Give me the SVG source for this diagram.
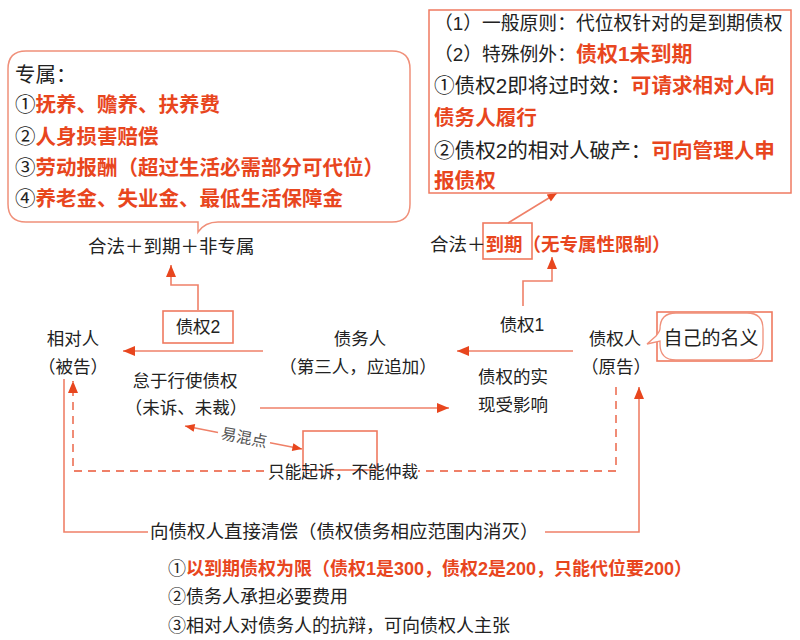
<svg xmlns="http://www.w3.org/2000/svg" width="800" height="640" viewBox="0 0 800 640">
<defs>
<style>
text{font-family:"Liberation Sans","Noto Sans CJK SC",sans-serif;fill:#222;}
.c{font-family:"Noto Sans CJK SC",sans-serif;}
.r{fill:#E8461E;font-weight:bold;}
.ln{fill:none;stroke:#EF8068;stroke-width:1.6;}
.dash{fill:none;stroke:#EF8068;stroke-width:1.8;stroke-dasharray:8,6;}
.box{fill:none;stroke:#EF7A60;stroke-width:1.6;}
.m{text-anchor:middle;}
</style>
<marker id="ah" viewBox="0 0 12 10" refX="12" refY="5" markerWidth="12" markerHeight="10" markerUnits="userSpaceOnUse" orient="auto">
<path d="M0,0 L12,5 L0,10 Z" fill="#E8461E"/>
</marker>
<marker id="ahs" viewBox="0 0 12 10" refX="12" refY="5" markerWidth="11" markerHeight="8" markerUnits="userSpaceOnUse" orient="auto-start-reverse">
<path d="M0,0 L12,5 L0,10 Z" fill="#E8461E"/>
</marker>
</defs>
<rect width="800" height="640" fill="#fff"/>

<g id="connectors">
<line class="ln" x1="263" y1="351" x2="123" y2="351" marker-end="url(#ah)"/>
<line class="ln" x1="573" y1="351" x2="457" y2="351" marker-end="url(#ah)"/>
<line class="ln" x1="260" y1="408" x2="449" y2="408" marker-end="url(#ah)"/>
<path class="ln" d="M198 310 V285 H171 V265" marker-end="url(#ah)"/>
<path class="ln" d="M523 306 V281 H552 V257" marker-end="url(#ah)"/>
<line class="ln" x1="508" y1="223" x2="557" y2="193" stroke-width="1.2" marker-end="url(#ahs)"/>
<path class="dash" d="M616 387 V471 H418"/>
<path class="dash" d="M264 471 H73 V381" marker-end="url(#ah)"/>
<path class="ln" d="M64 379 V532 H148"/>
<path class="ln" d="M545 532 H639 V387" marker-end="url(#ah)"/>
<line class="ln" x1="218" y1="432.5" x2="185" y2="426" marker-end="url(#ahs)"/>
<line class="ln" x1="270" y1="442.7" x2="302" y2="449" marker-end="url(#ahs)"/>
<text x="244" y="443" font-size="15.5" class="m" transform="rotate(11 244 438)" style="fill:#555">易混点</text>
</g>

<g id="callout-exclusive">
<path d="M26 51 H392 Q410 51 410 69 V204 Q410 222 392 222 H218 Q205 222 198 232 V222 H26 Q8 222 8 204 V69 Q8 51 26 51 Z" fill="#fff" stroke="#F0907A" stroke-width="1.5"/>
<text x="15" y="82" font-size="20.5">专属：</text>
<text x="15" y="112" font-size="20.5"><tspan class="c">①</tspan><tspan class="r">抚养、赡养、扶养费</tspan></text>
<text x="15" y="144" font-size="20.5"><tspan class="c">②</tspan><tspan class="r">人身损害赔偿</tspan></text>
<text x="15" y="175" font-size="20.5"><tspan class="c">③</tspan><tspan class="r">劳动报酬（超过生活必需部分可代位）</tspan></text>
<text x="15" y="206" font-size="20.5"><tspan class="c">④</tspan><tspan class="r">养老金、失业金、最低生活保障金</tspan></text>
</g>

<g id="cond-left">
<text x="88" y="253" font-size="18.5">合法＋到期＋非专属</text>
</g>

<g id="box-exception">
<rect x="429" y="10" width="362" height="183" fill="#fff" stroke="#EF7A60" stroke-width="1.5"/>
<text x="434" y="30" font-size="18.8">（1）一般原则：代位权针对的是到期债权</text>
<text x="434" y="61" font-size="18.8">（2）特殊例外：<tspan class="r" font-size="21">债权1未到期</tspan></text>
<text x="434" y="93" font-size="20.6"><tspan class="c">①</tspan>债权2即将过时效：<tspan class="r">可请求相对人向</tspan></text>
<text x="434" y="125" font-size="20.6" class="r">债务人履行</text>
<text x="434" y="158" font-size="20.6"><tspan class="c">②</tspan>债权2的相对人破产：<tspan class="r">可向管理人申</tspan></text>
<text x="434" y="188" font-size="20.6" class="r">报债权</text>
</g>

<g id="cond-right">
<rect class="box" x="483" y="223" width="49" height="36"/>
<text x="430" y="251" font-size="18.5">合法＋<tspan class="r">到期</tspan><tspan class="r">（无专属性限制）</tspan></text>
</g>

<g id="claim2">
<rect class="box" x="163" y="311" width="70" height="32" fill="#fff"/>
<text x="198" y="333" font-size="17.5" class="m">债权2</text>
</g>

<g id="claim1">
<text x="522" y="331" font-size="17.5" class="m">债权1</text>
</g>

<g id="third-party">
<text x="73" y="345" font-size="17.5" class="m">相对人</text>
<text x="73" y="373" font-size="17.5" class="m">（被告）</text>
</g>

<g id="debtor">
<text x="360" y="345" font-size="17.5" class="m">债务人</text>
<text x="358" y="373" font-size="17.5" class="m">（第三人，应追加）</text>
</g>

<g id="neglect">
<text x="185" y="387" font-size="17.5" class="m">怠于行使债权</text>
<text x="186" y="414" font-size="17.5" class="m">（未诉、未裁）</text>
</g>

<g id="effect">
<text x="513" y="383" font-size="17.5" class="m">债权的实</text>
<text x="513" y="411" font-size="17.5" class="m">现受影响</text>
</g>

<g id="creditor">
<text x="615" y="345" font-size="17.5" class="m">债权人</text>
<text x="616" y="373" font-size="17.5" class="m">（原告）</text>
</g>

<g id="own-name">
<rect class="box" x="657" y="312" width="115" height="49"/>
<path d="M676 313 H747 Q763 313 763 329 V344 Q763 360 747 360 H676 Q660 360 660 344 V341 L647 344 L656 336 Q660 331 660 329 Q660 313 676 313 Z" fill="#fff" stroke="#F0907A" stroke-width="1.3"/>
<text x="711" y="345" font-size="19" class="m">自己的名义</text>
</g>

<g id="lawsuit">
<rect class="box" x="303" y="431" width="74" height="39"/>
<text x="268" y="478" font-size="16.7">只能起诉，不能仲裁</text>
</g>

<g id="repay">
<text x="150" y="538" font-size="18.5">向债权人直接清偿（债权债务相应范围内消灭）</text>
</g>

<g id="notes">
<text x="168" y="575" font-size="18"><tspan class="c">①</tspan><tspan class="r">以到期债权为限（债权1是300，债权2是200，只能代位要200）</tspan></text>
<text x="168" y="603" font-size="18"><tspan class="c">②</tspan>债务人承担必要费用</text>
<text x="168" y="632" font-size="18"><tspan class="c">③</tspan>相对人对债务人的抗辩，可向债权人主张</text>
</g>
</svg>
